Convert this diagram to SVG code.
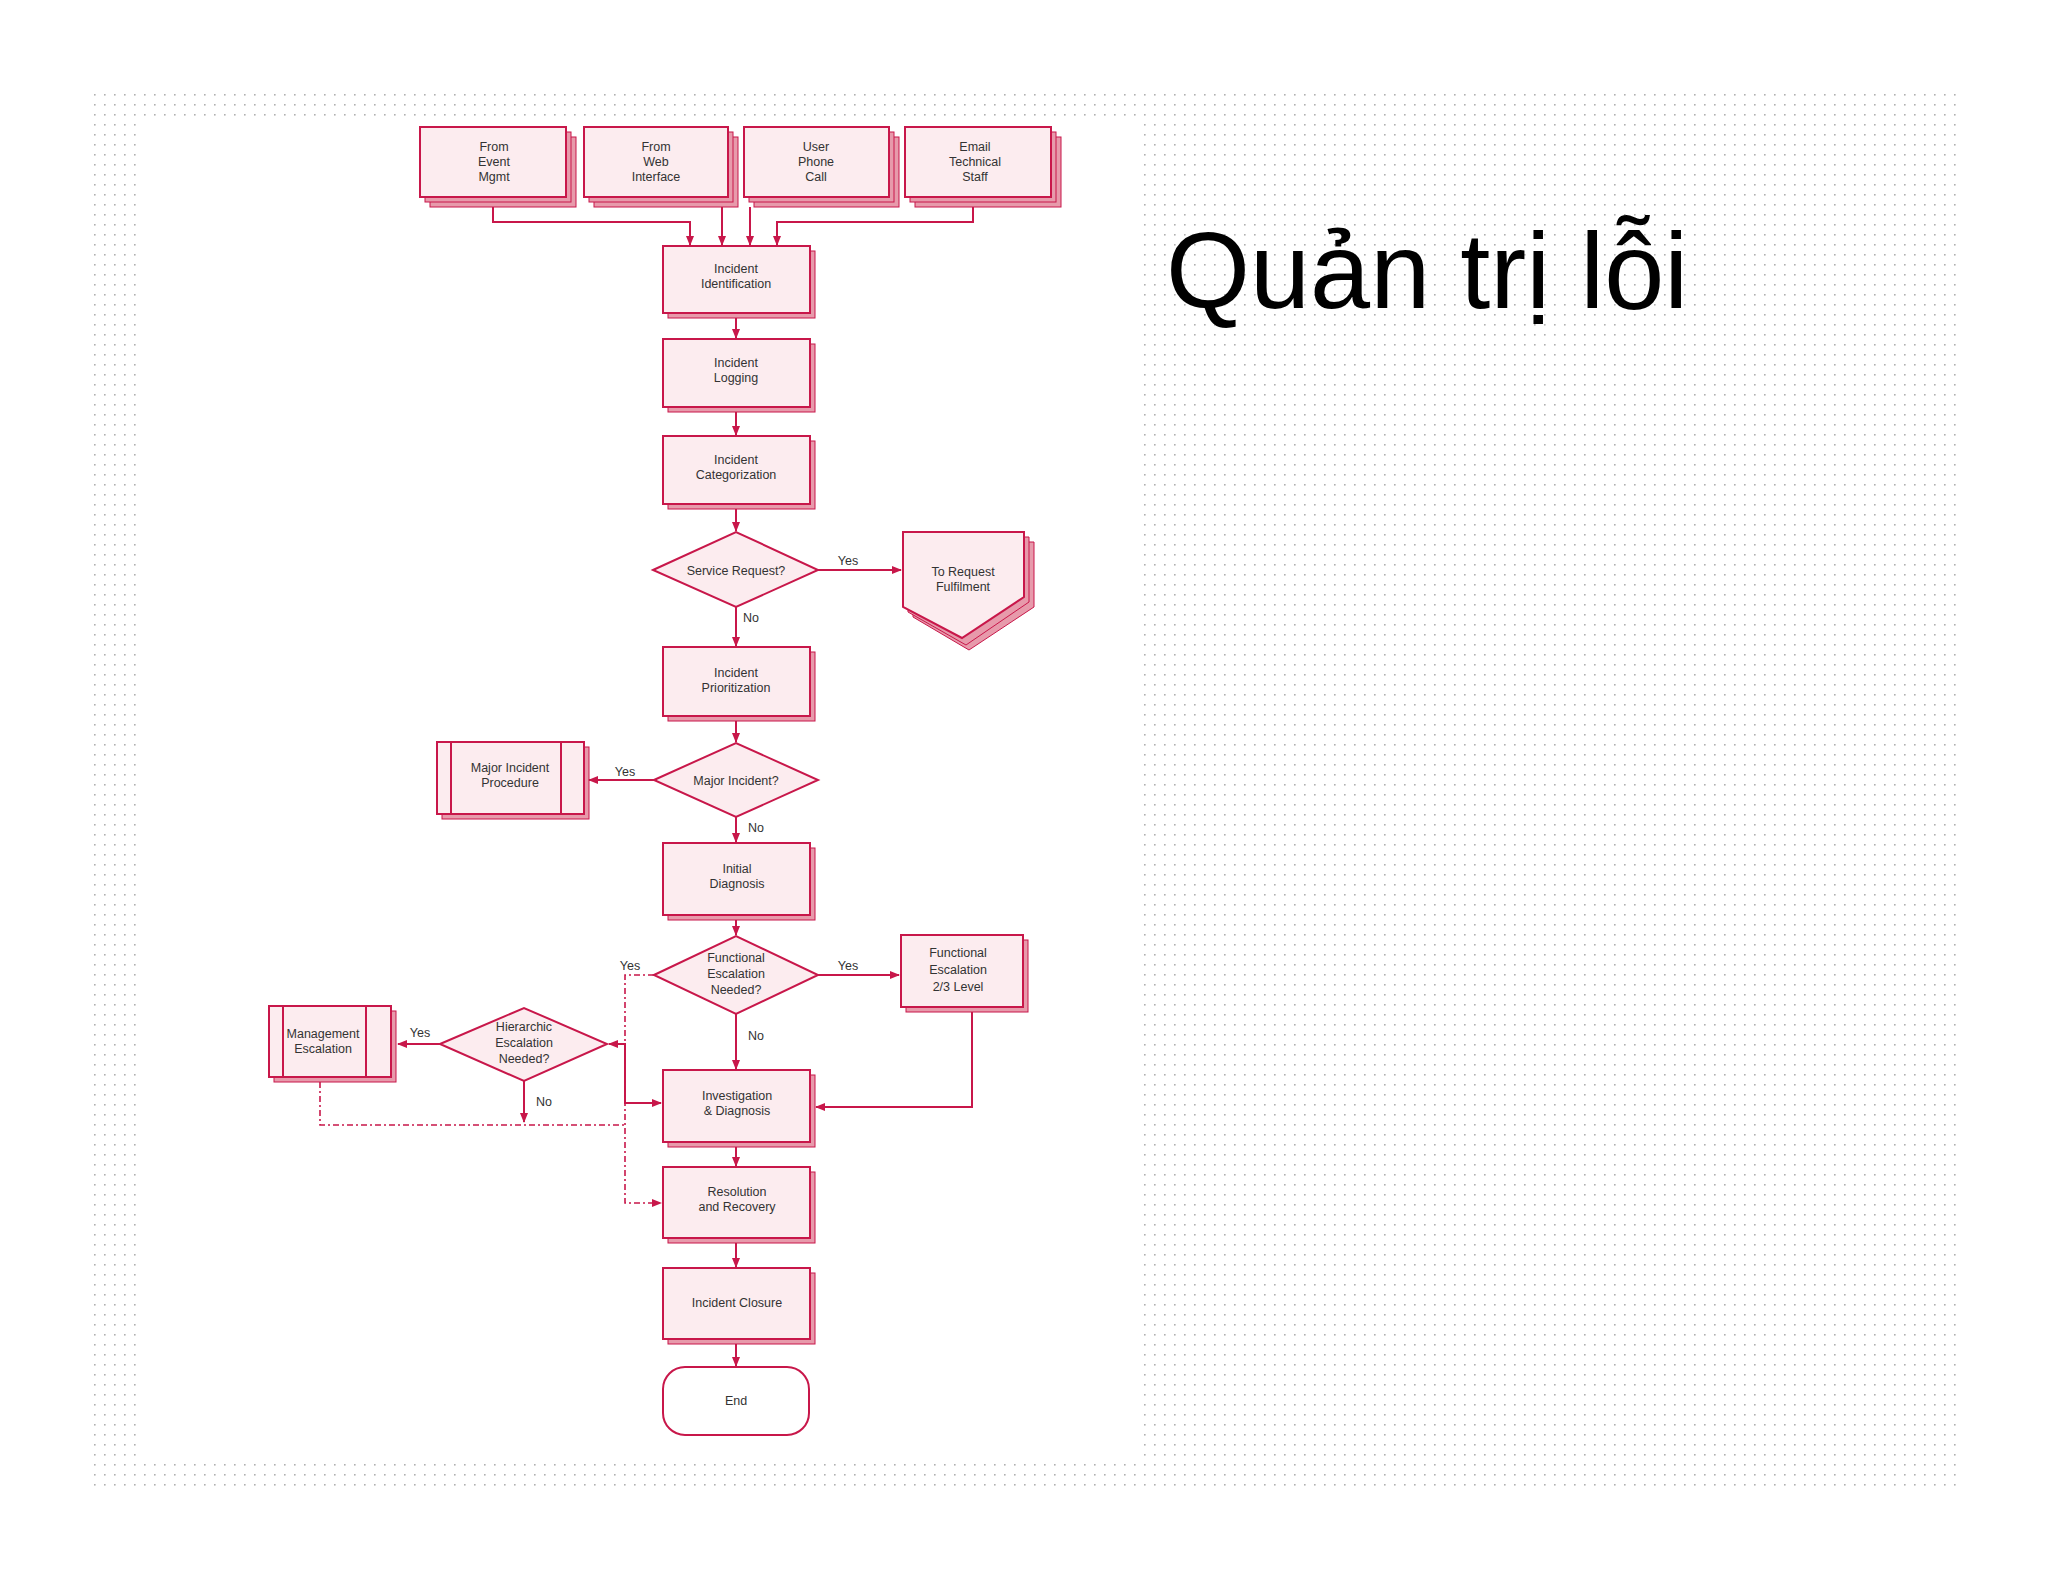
<svg xmlns="http://www.w3.org/2000/svg" width="2048" height="1582" viewBox="0 0 2048 1582">
<defs>
<pattern id="dots" width="10" height="10" patternUnits="userSpaceOnUse"><rect x="4" y="4" width="1.6" height="1.6" fill="#b0b0b0"/></pattern>
<marker id="ar" markerWidth="10" markerHeight="8" refX="9" refY="4" orient="auto" markerUnits="userSpaceOnUse"><path d="M0,0 L10,4 L0,8 Z" fill="#c8174a"/></marker>
<style>
.b{fill:#fcecef;stroke:#c8174a;stroke-width:2}
.s{fill:#e79aab;stroke:#c8174a;stroke-width:1}
.t{font-family:"Liberation Sans",Arial,sans-serif;font-size:12.5px;fill:#333;text-anchor:middle}
.c{fill:none;stroke:#c8174a;stroke-width:2}
.d{fill:none;stroke:#c8174a;stroke-width:1.6;stroke-dasharray:6 3 2 3}
</style>
</defs>
<rect width="2048" height="1582" fill="#fff"/>
<rect x="92" y="92" width="1871" height="1398" fill="url(#dots)"/>
<rect x="138" y="118" width="998" height="1346" fill="#fff"/>
<text x="1166" y="308" font-family="Liberation Sans,Arial,sans-serif" font-size="108" fill="#000">Quản trị lỗi</text>

<g id="n-event"><rect class="s" x="430" y="137" width="146" height="70"/><rect class="s" x="425" y="132" width="146" height="70"/><rect class="b" x="420" y="127" width="146" height="70"/><text class="t" x="494" y="151">From</text><text class="t" x="494" y="166">Event</text><text class="t" x="494" y="181">Mgmt</text></g>
<g id="n-web"><rect class="s" x="594" y="137" width="144" height="70"/><rect class="s" x="589" y="132" width="144" height="70"/><rect class="b" x="584" y="127" width="144" height="70"/><text class="t" x="656" y="151">From</text><text class="t" x="656" y="166">Web</text><text class="t" x="656" y="181">Interface</text></g>
<g id="n-phone"><rect class="s" x="754" y="137" width="145" height="70"/><rect class="s" x="749" y="132" width="145" height="70"/><rect class="b" x="744" y="127" width="145" height="70"/><text class="t" x="816" y="151">User</text><text class="t" x="816" y="166">Phone</text><text class="t" x="816" y="181">Call</text></g>
<g id="n-email"><rect class="s" x="915" y="137" width="146" height="70"/><rect class="s" x="910" y="132" width="146" height="70"/><rect class="b" x="905" y="127" width="146" height="70"/><text class="t" x="975" y="151">Email</text><text class="t" x="975" y="166">Technical</text><text class="t" x="975" y="181">Staff</text></g>

<g id="n-ident"><rect class="s" x="668" y="251" width="147" height="67"/><rect class="b" x="663" y="246" width="147" height="67"/><text class="t" x="736" y="273">Incident</text><text class="t" x="736" y="288">Identification</text></g>
<g id="n-log"><rect class="s" x="668" y="344" width="147" height="68"/><rect class="b" x="663" y="339" width="147" height="68"/><text class="t" x="736" y="367">Incident</text><text class="t" x="736" y="382">Logging</text></g>
<g id="n-cat"><rect class="s" x="668" y="441" width="147" height="68"/><rect class="b" x="663" y="436" width="147" height="68"/><text class="t" x="736" y="464">Incident</text><text class="t" x="736" y="479">Categorization</text></g>
<g id="n-sr"><path class="b" d="M653,570 L736,532 L818,570 L736,607 Z"/><text class="t" x="736" y="575">Service Request?</text></g>
<g id="n-rf"><path class="s" d="M913,542 H1034 V607 L969,650 L913,617 Z"/><path class="s" d="M908,537 H1029 V602 L966,645 L908,612 Z"/><path class="b" d="M903,532 H1024 V597 L962,638 L903,607 Z"/><text class="t" x="963" y="576">To Request</text><text class="t" x="963" y="591">Fulfilment</text></g>
<g id="n-prio"><rect class="s" x="668" y="652" width="147" height="69"/><rect class="b" x="663" y="647" width="147" height="69"/><text class="t" x="736" y="677">Incident</text><text class="t" x="736" y="692">Prioritization</text></g>
<g id="n-mi"><path class="b" d="M654,780 L736,743 L818,780 L736,817 Z"/><text class="t" x="736" y="785">Major Incident?</text></g>
<g id="n-mip"><rect class="s" x="442" y="747" width="147" height="72"/><rect class="b" x="437" y="742" width="147" height="72"/><path class="c" d="M451,742 V814 M561,742 V814"/><text class="t" x="510" y="772">Major Incident</text><text class="t" x="510" y="787">Procedure</text></g>
<g id="n-init"><rect class="s" x="668" y="848" width="147" height="72"/><rect class="b" x="663" y="843" width="147" height="72"/><text class="t" x="737" y="873">Initial</text><text class="t" x="737" y="888">Diagnosis</text></g>
<g id="n-fe"><path class="b" d="M654,975 L736,936 L818,975 L736,1014 Z"/><text class="t" x="736" y="962">Functional</text><text class="t" x="736" y="978">Escalation</text><text class="t" x="736" y="994">Needed?</text></g>
<g id="n-fel"><rect class="s" x="906" y="940" width="122" height="72"/><rect class="b" x="901" y="935" width="122" height="72"/><text class="t" x="958" y="957">Functional</text><text class="t" x="958" y="974">Escalation</text><text class="t" x="958" y="991">2/3 Level</text></g>
<g id="n-he"><path class="b" d="M440,1044 L524,1008 L607,1044 L524,1081 Z"/><text class="t" x="524" y="1031">Hierarchic</text><text class="t" x="524" y="1047">Escalation</text><text class="t" x="524" y="1063">Needed?</text></g>
<g id="n-me"><rect class="s" x="274" y="1011" width="122" height="71"/><rect class="b" x="269" y="1006" width="122" height="71"/><path class="c" d="M283,1006 V1077 M366,1006 V1077"/><text class="t" x="323" y="1038">Management</text><text class="t" x="323" y="1053">Escalation</text></g>
<g id="n-inv"><rect class="s" x="668" y="1075" width="147" height="72"/><rect class="b" x="663" y="1070" width="147" height="72"/><text class="t" x="737" y="1100">Investigation</text><text class="t" x="737" y="1115">&amp; Diagnosis</text></g>
<g id="n-res"><rect class="s" x="668" y="1172" width="147" height="71"/><rect class="b" x="663" y="1167" width="147" height="71"/><text class="t" x="737" y="1196">Resolution</text><text class="t" x="737" y="1211">and Recovery</text></g>
<g id="n-close"><rect class="s" x="668" y="1273" width="147" height="71"/><rect class="b" x="663" y="1268" width="147" height="71"/><text class="t" x="737" y="1307">Incident Closure</text></g>
<g id="n-end"><rect x="663" y="1367" width="146" height="68" rx="22" fill="#fff" stroke="#c8174a" stroke-width="2"/><text class="t" x="736" y="1405">End</text></g>

<g id="connectors">
<path class="c" marker-end="url(#ar)" d="M493,207 V222 H690 V245"/>
<path class="c" marker-end="url(#ar)" d="M722,207 V245"/>
<path class="c" marker-end="url(#ar)" d="M750,207 V245"/>
<path class="c" marker-end="url(#ar)" d="M973,207 V222 H777 V245"/>
<path class="c" marker-end="url(#ar)" d="M736,318 V338"/>
<path class="c" marker-end="url(#ar)" d="M736,412 V435"/>
<path class="c" marker-end="url(#ar)" d="M736,509 V531"/>
<path class="c" marker-end="url(#ar)" d="M818,570 H901"/>
<path class="c" marker-end="url(#ar)" d="M736,607 V646"/>
<path class="c" marker-end="url(#ar)" d="M736,721 V742"/>
<path class="c" marker-end="url(#ar)" d="M654,780 H589"/>
<path class="c" marker-end="url(#ar)" d="M736,817 V842"/>
<path class="c" marker-end="url(#ar)" d="M736,920 V935"/>
<path class="c" marker-end="url(#ar)" d="M818,975 H899"/>
<path class="c" marker-end="url(#ar)" d="M736,1014 V1069"/>
<path class="c" marker-end="url(#ar)" d="M972,1012 V1107 H816"/>
<path class="c" marker-end="url(#ar)" d="M625,1075 V1044 H609"/>
<path class="c" marker-end="url(#ar)" d="M625,1075 V1103 H661"/>
<path class="c" marker-end="url(#ar)" d="M440,1044 H398"/>
<path class="c" marker-end="url(#ar)" d="M524,1081 V1122"/>
<path class="d" d="M320,1082 V1125 H625"/>
<path class="d" marker-end="url(#ar)" d="M654,975 H625 V1203 H661"/>
<path class="c" marker-end="url(#ar)" d="M736,1147 V1166"/>
<path class="c" marker-end="url(#ar)" d="M736,1243 V1267"/>
<path class="c" marker-end="url(#ar)" d="M736,1344 V1366"/>
<text class="t" x="848" y="565">Yes</text>
<text class="t" x="751" y="622">No</text>
<text class="t" x="625" y="776">Yes</text>
<text class="t" x="756" y="832">No</text>
<text class="t" x="848" y="970">Yes</text>
<text class="t" x="630" y="970">Yes</text>
<text class="t" x="756" y="1040">No</text>
<text class="t" x="420" y="1037">Yes</text>
<text class="t" x="544" y="1106">No</text>
</g>
</svg>
